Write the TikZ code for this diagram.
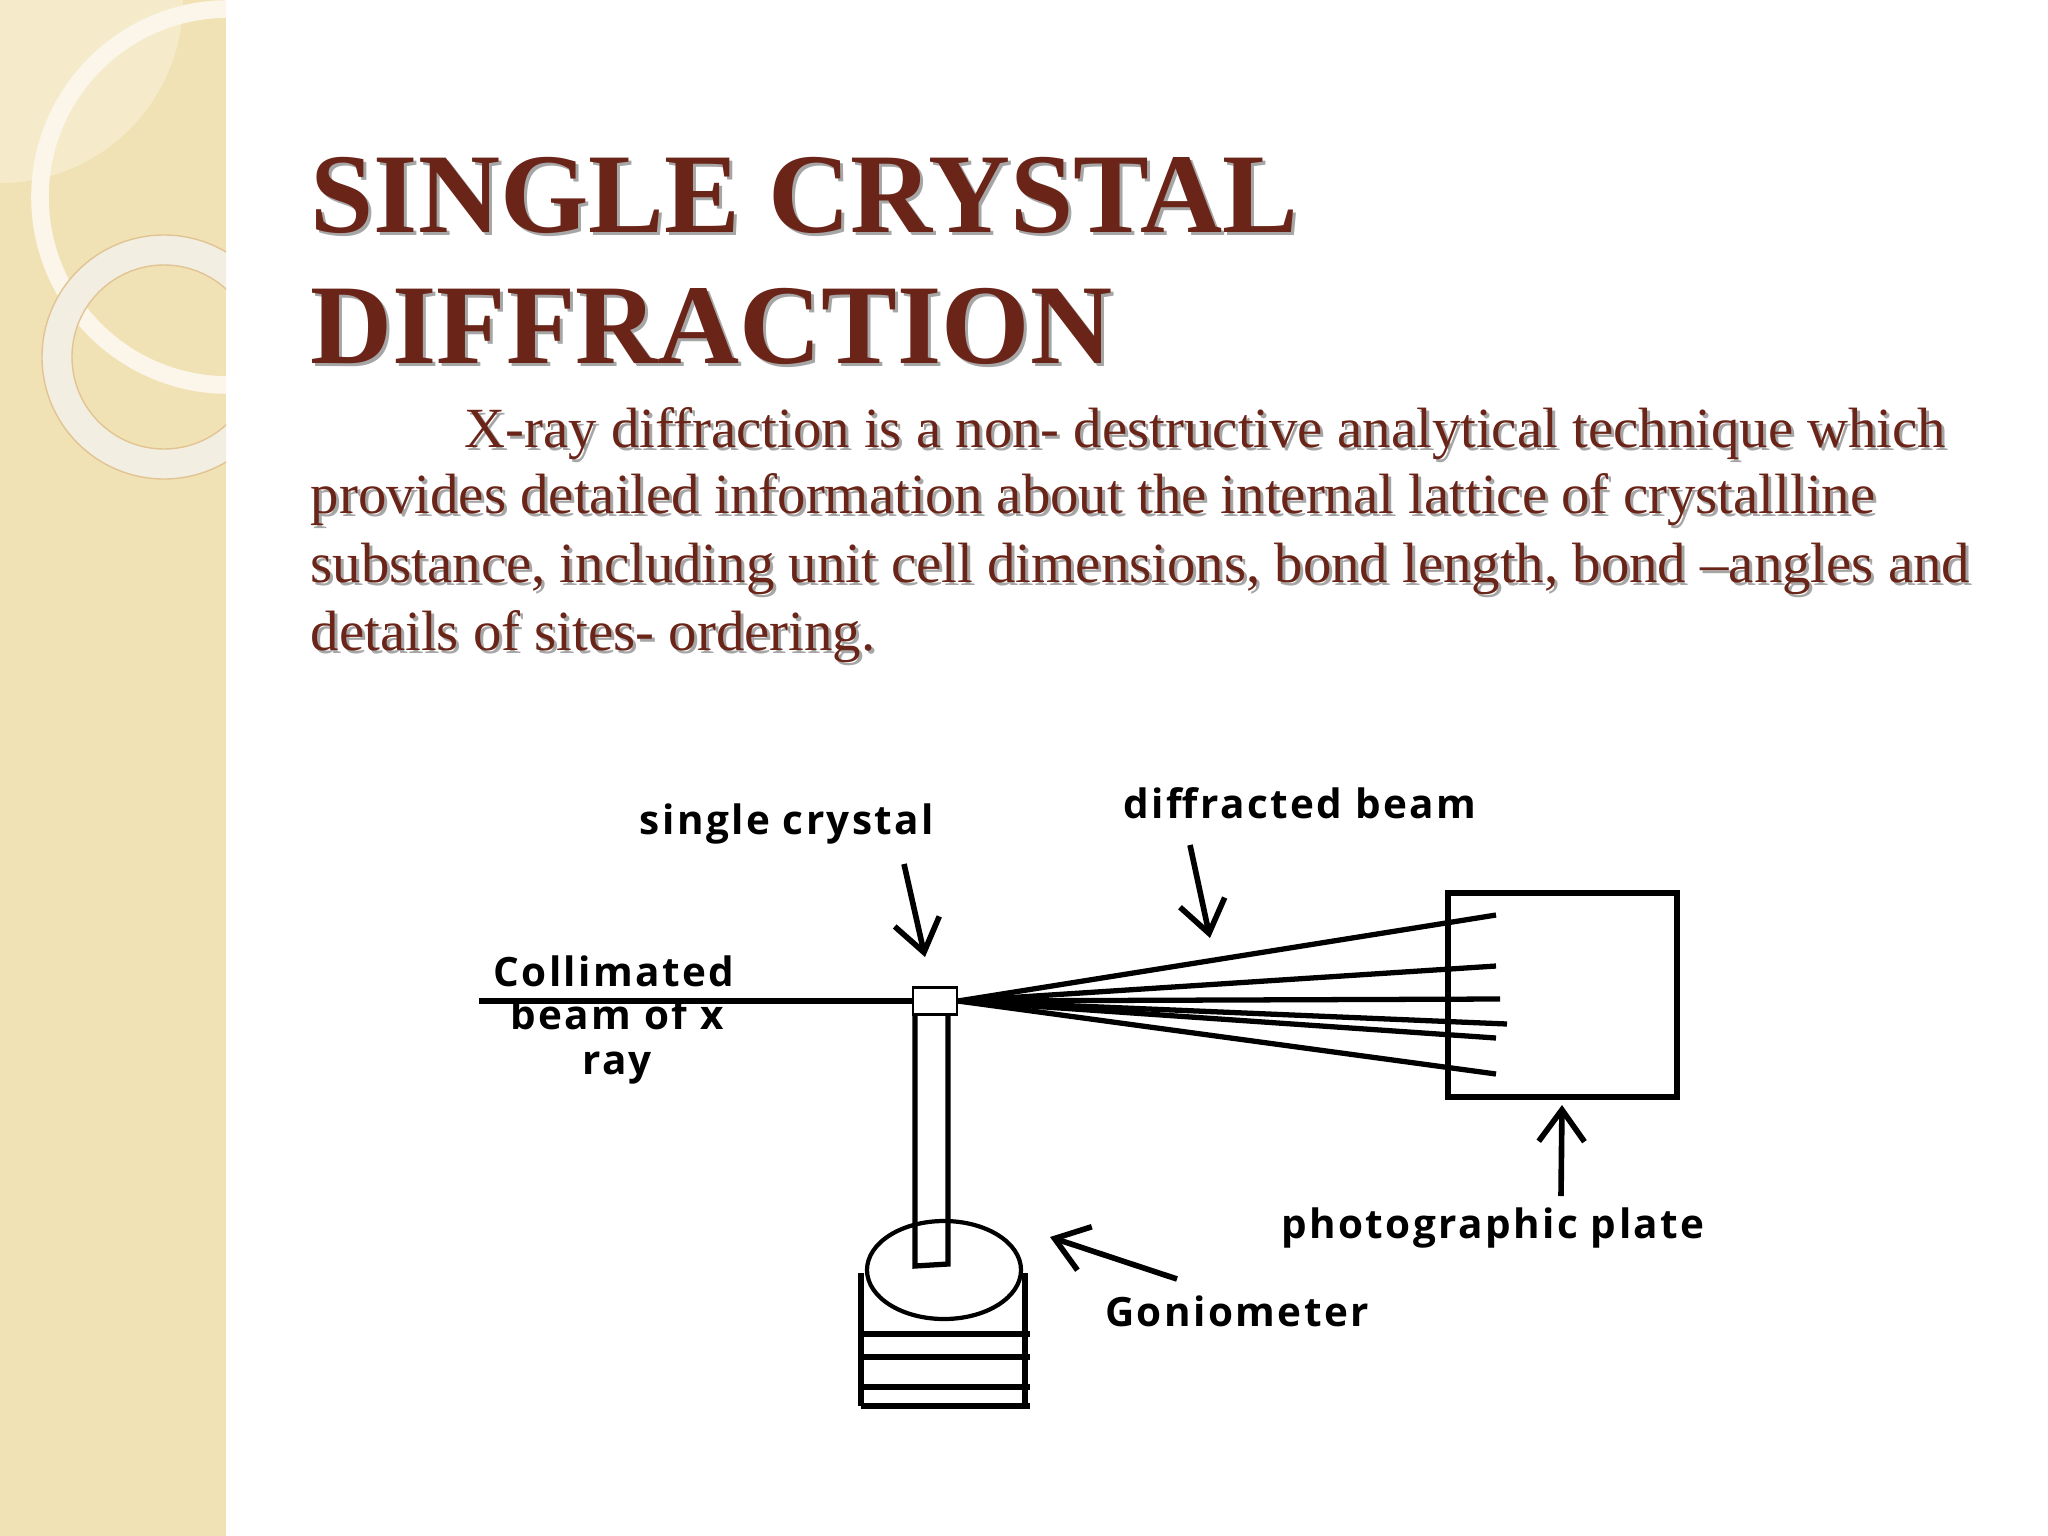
\documentclass[tikz,border=0pt]{standalone}
\usepackage{fontspec}
\setmainfont{Liberation Serif}
\newfontfamily\lblfont[LetterSpace=6]{Open Sans}
\usetikzlibrary{arrows.meta}
\definecolor{brn}{HTML}{6A2418}
\definecolor{strip}{HTML}{F1E2B6}
\definecolor{lens}{HTML}{F5EBCB}
\definecolor{ring}{HTML}{F2EEE2}
\tikzset{
  ln/.style={line width=1.5pt,black},
  arr/.style={line width=1.6pt,-{Straight Barb[length=9pt,width=13pt,line width=1.6pt]}},
  lbl/.style={font=\lblfont\bfseries\fontsize{11.5}{13}\selectfont,inner sep=0pt,anchor=base},
  ttl/.style={font=\bfseries\fontsize{32.3}{36}\selectfont,text=brn,anchor=base west,inner sep=0pt},
  bdy/.style={font=\fontsize{16.15}{19}\selectfont,text=brn,anchor=base west,inner sep=0pt},
  shd/.style={text=black!35}
}
\begin{document}
\begin{tikzpicture}[x=0.01cm,y=-0.01cm]
\useasboundingbox (0,0) rectangle (2048,1536);
\fill[white] (0,0) rectangle (2048,1536);
% decorative strip
\begin{scope}
\clip (0,0) rectangle (226,1536);
\fill[strip] (0,0) rectangle (226,1536);
\fill[lens] (0,0) -- (183,0) arc (0:90:183) -- cycle;
\draw[line width=5pt,color=white!70!strip] (228,197) circle (188);
\fill[ring,even odd rule] (164,357) circle (122) (164,357) circle (92);
\draw[strip!70!brown,line width=0.4pt] (164,357) circle (122) (164,357) circle (92);
\end{scope}
% title
\foreach \dx/\st in {3/shd,0/{}}{
\node[ttl,\st] (t1) at (310+\dx,232+\dx) {SINGLE CRYSTAL};
\node[ttl,\st] (t2) at (310+\dx,363+\dx) {DIFFRACTION};
\node[bdy,\st] (b1) at (464+\dx,447+\dx) {X-ray diffraction is a non- destructive analytical technique which};
\node[bdy,\st] (b2) at (310+\dx,513+\dx) {provides detailed information about the internal lattice of crystallline};
\node[bdy,\st] (b3) at (310+\dx,582+\dx) {substance, including unit cell dimensions, bond length, bond –angles and};
\node[bdy,\st] (b4) at (310+\dx,650+\dx) {details of sites- ordering.};
}
% diagram
\coordinate (bs) at (479,1001);
\node[draw=black,line width=0.8pt,minimum width=0.44cm,minimum height=0.27cm,inner sep=0pt] (cry) at (935,1001) {};
\draw[ln] (bs) -- (cry.west);
\draw[ln] (915,1014) -- (915,1266) -- (948,1264) -- (948,1014);
\draw[line width=1.2pt] (944,1270) ellipse (77 and 49);
\draw[ln] (861,1273) -- (861,1406) (1025,1273) -- (1025,1406);
\foreach \yy in {1334,1357,1387,1406} \draw[ln] (861,\yy) -- (1030,\yy);
\node[draw=black,line width=1.5pt,minimum width=2.29cm,minimum height=2.04cm,inner sep=0pt] (plate) at (1562.5,995) {};
\coordinate (o) at (958,1001);
\foreach \ex/\ey in {1496/915,1496/966,1500/999,1507/1024,1496/1038,1496/1074}
  \draw[ln] (o) -- (\ex,\ey);
% labels
\node[lbl] (lsc) at (787,834) {single crystal};
\node[lbl] (ldb) at (1300,818) {diffracted beam};
\node[lbl] (lcol1) at (614,986) {Collimated};
\node[lbl] (lcol2) at (617,1029) {beam of x};
\node[lbl] (lcol3) at (617,1074) {ray};
\node[lbl] (lpp) at (1493,1238) {photographic plate};
\node[lbl] (lgo) at (1237,1326) {Goniometer};
\draw[arr] (904,864) -- (925,957);
\draw[arr] (1190,845) -- (1210,938);
\draw[arr] (1561,1196) -- (1562,1105);
\draw[arr] (1177,1279) -- (1050,1237);
\end{tikzpicture}
\end{document}
